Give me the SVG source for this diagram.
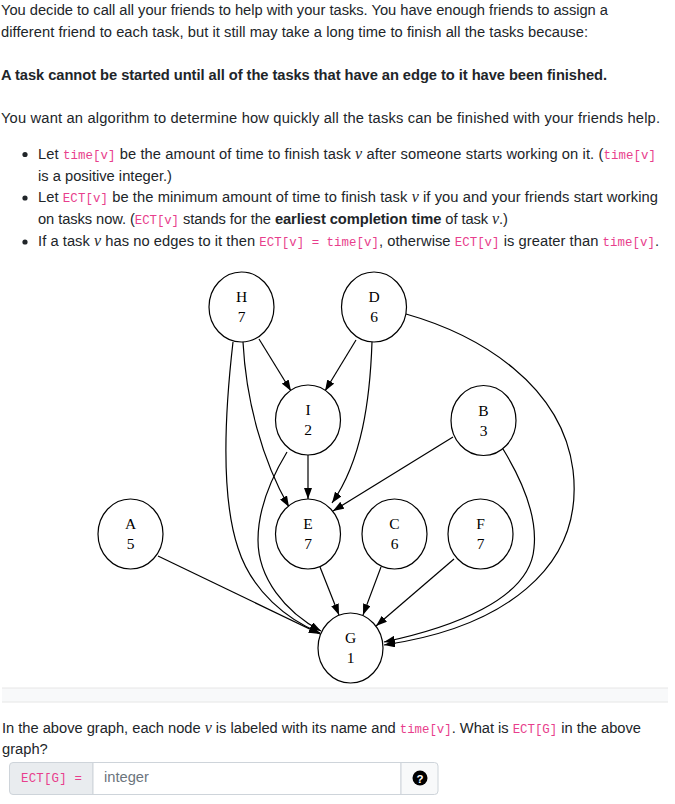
<svg xmlns="http://www.w3.org/2000/svg" width="675" height="804" viewBox="0 0 675 804">
<style>
.t{font-family:"Liberation Sans",Arial,sans-serif;font-size:14.7px;fill:#212529}
.b{font-weight:bold}
.c{font-family:"Liberation Mono","DejaVu Sans Mono",monospace;font-size:12.4px;fill:#e83e8c}
.m{font-family:"Liberation Serif","Times New Roman",serif;font-style:italic;font-size:16px;fill:#212529}
.node ellipse{fill:#fff;stroke:#000;stroke-width:1.2}
.node text{font-family:"Liberation Serif","Times New Roman",serif;font-size:15.5px;fill:#000;text-anchor:middle}
#edges path{fill:none;stroke:#000;stroke-width:1.2;marker-end:url(#arr)}
</style>
<defs>
<marker id="arr" viewBox="0 0 11 8" refX="11" refY="4" markerWidth="11" markerHeight="8" markerUnits="userSpaceOnUse" orient="auto">
<path d="M0,0 L11,4 L0,8 Z" fill="#000"/>
</marker>
</defs>
<rect width="675" height="804" fill="#fff"/>

<!-- Intro text -->
<text class="t" x="1" y="15" textLength="607">You decide to call all your friends to help with your tasks. You have enough friends to assign a</text>
<text class="t" x="1" y="37" textLength="587">different friend to each task, but it still may take a long time to finish all the tasks because:</text>
<text class="t b" x="1" y="79.5" textLength="606">A task cannot be started until all of the tasks that have an edge to it have been finished.</text>
<text class="t" x="1" y="122.5" textLength="659">You want an algorithm to determine how quickly all the tasks can be finished with your friends help.</text>

<!-- bullets -->
<circle cx="25" cy="154.5" r="2.6" fill="#212529"/>
<circle cx="25" cy="198" r="2.6" fill="#212529"/>
<circle cx="25" cy="242" r="2.6" fill="#212529"/>

<text class="t" x="38" y="158.5" textLength="618">Let <tspan class="c">time[v]</tspan> be the amount of time to finish task <tspan class="m">v</tspan> after someone starts working on it. (<tspan class="c">time[v]</tspan></text>
<text class="t" x="38" y="180.5" textLength="134">is a positive integer.)</text>

<text class="t" x="38" y="202" textLength="620">Let <tspan class="c">ECT[v]</tspan> be the minimum amount of time to finish task <tspan class="m">v</tspan> if you and your friends start working</text>
<text class="t" x="38" y="224" textLength="470">on tasks now. (<tspan class="c">ECT[v]</tspan> stands for the <tspan class="b">earliest completion time</tspan> of task <tspan class="m">v</tspan>.)</text>

<text class="t" x="38" y="246" textLength="621" xml:space="preserve">If a task <tspan class="m">v</tspan> has no edges to it then <tspan class="c">ECT[v] = time[v]</tspan>, otherwise <tspan class="c">ECT[v]</tspan> is greater than <tspan class="c">time[v]</tspan>.</text>

<!-- Graph -->
<g id="edges">
<path d="M259,339 L291,391"/>
<path d="M356,340 L325,391"/>
<path d="M243,342 C246,400 262,460 289,507"/>
<path d="M233,342 C224,420 222,500 238,548 C252,592 288,620 320,633"/>
<path d="M287,452 C270,480 258,510 258,540 C258,578 285,612 321,631"/>
<path d="M372,342 C370,400 362,460 332,503"/>
<path d="M308,455 L308,499"/>
<path d="M453,437 L333,511"/>
<path d="M503,449 C525,485 537,520 534,548 C530,600 450,628 384,642"/>
<path d="M406,314 C480,335 562,385 573,470 C585,570 500,628 384,645"/>
<path d="M158,556 L320,634"/>
<path d="M320,567 L339,615"/>
<path d="M381,567 L363,615"/>
<path d="M454,559 L376,626"/>
</g>

<g id="node-H" class="node"><ellipse cx="241.5" cy="307" rx="32.5" ry="35"/><text x="241.5" y="302">H</text><text x="241.5" y="322">7</text></g>
<g id="node-D" class="node"><ellipse cx="374" cy="307" rx="32.5" ry="35"/><text x="374" y="302">D</text><text x="374" y="322">6</text></g>
<g id="node-I" class="node"><ellipse cx="308" cy="420" rx="32.5" ry="35"/><text x="308" y="415">I</text><text x="308" y="435">2</text></g>
<g id="node-B" class="node"><ellipse cx="483.5" cy="420.5" rx="32.5" ry="35"/><text x="483.5" y="415.5">B</text><text x="483.5" y="435.5">3</text></g>
<g id="node-A" class="node"><ellipse cx="130.5" cy="534" rx="32.5" ry="35"/><text x="130.5" y="529">A</text><text x="130.5" y="549">5</text></g>
<g id="node-E" class="node"><ellipse cx="308" cy="534" rx="32.5" ry="35"/><text x="308" y="529">E</text><text x="308" y="549">7</text></g>
<g id="node-C" class="node"><ellipse cx="394.5" cy="534" rx="32.5" ry="35"/><text x="394.5" y="529">C</text><text x="394.5" y="549">6</text></g>
<g id="node-F" class="node"><ellipse cx="480.5" cy="534" rx="32.5" ry="35"/><text x="480.5" y="529">F</text><text x="480.5" y="549">7</text></g>
<g id="node-G" class="node"><ellipse cx="350.5" cy="648" rx="32.5" ry="35"/><text x="350.5" y="643">G</text><text x="350.5" y="663">1</text></g>

<!-- separator band -->
<rect x="2" y="688" width="666" height="14" fill="#f8f9fa"/>
<line x1="2" y1="688" x2="668" y2="688" stroke="#e6e6e6" stroke-width="1"/>
<line x1="2" y1="702" x2="668" y2="702" stroke="#e6e6e6" stroke-width="1"/>

<!-- question -->
<text class="t" x="2" y="733" textLength="639">In the above graph, each node <tspan class="m">v</tspan> is labeled with its name and <tspan class="c">time[v]</tspan>. What is <tspan class="c">ECT[G]</tspan> in the above</text>
<text class="t" x="2" y="754">graph?</text>

<!-- input group -->
<g id="input">
<path d="M13,762.5 H93 V794.5 H13 A3.5,3.5 0 0 1 9.5,791 V766 A3.5,3.5 0 0 1 13,762.5 Z" fill="#e9ecef" stroke="#ced4da"/>
<rect x="93" y="762.5" width="308" height="32" fill="#fff" stroke="#ced4da"/>
<path d="M401,762.5 H434.5 A3.5,3.5 0 0 1 438,766 V791 A3.5,3.5 0 0 1 434.5,794.5 H401 Z" fill="#f8f9fa" stroke="#ced4da"/>
<text class="c" x="21" y="782" textLength="61" xml:space="preserve">ECT[G] =</text>
<text class="t" x="104" y="782" style="fill:#6c757d">integer</text>
<circle cx="420" cy="778" r="7.5" fill="#000"/>
<text x="420" y="782.5" text-anchor="middle" style="font-family:'Liberation Sans',Arial,sans-serif;font-weight:bold;font-size:11.5px;fill:#fff">?</text>
</g>
</svg>
